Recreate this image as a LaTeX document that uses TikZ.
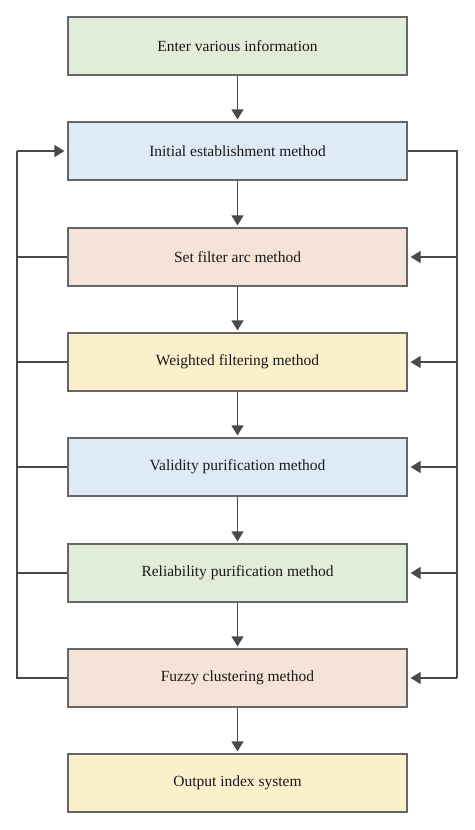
\documentclass[tikz,border=0pt]{standalone}
\usepackage{fontspec}
\setmainfont{Liberation Serif}
\usetikzlibrary{arrows.meta}
\definecolor{cgreen}{HTML}{E2EDD9}
\definecolor{cblue}{HTML}{DEEAF6}
\definecolor{cpeach}{HTML}{F5E3D7}
\definecolor{cyellow}{HTML}{FCEFCB}
\definecolor{cline}{HTML}{4A4A4A}
\definecolor{cborder}{HTML}{666666}
\begin{document}
\begin{tikzpicture}[x=1pt,y=-1pt,
  stepbox/.style={draw=cborder,line width=1.2pt,minimum width=339pt,minimum height=58pt,inner sep=0pt,font=\fontsize{15.5}{18}\selectfont,text=black!90},
  conn/.style={draw=cline,line width=1.2pt},
  arr/.style={conn,-{Triangle[length=10pt,width=12pt]}}]
\useasboundingbox (0,0) rectangle (474,830);
\node[stepbox,fill=cgreen]  (b1) at (237.5,46)  {Enter various information};
\node[stepbox,fill=cblue]   (b2) at (237.5,151) {Initial establishment method};
\node[stepbox,fill=cpeach]  (b3) at (237.5,257) {Set filter arc method};
\node[stepbox,fill=cyellow] (b4) at (237.5,362) {Weighted filtering method};
\node[stepbox,fill=cblue]   (b5) at (237.5,467) {Validity purification method};
\node[stepbox,fill=cgreen]  (b6) at (237.5,573) {Reliability purification method};
\node[stepbox,fill=cpeach]  (b7) at (237.5,678) {Fuzzy clustering method};
\node[stepbox,fill=cyellow] (b8) at (237.5,783) {Output index system};
\foreach \a/\b in {b1/b2,b2/b3,b3/b4,b4/b5,b5/b6,b6/b7,b7/b8}
  \draw[arr,shorten >=2pt] (\a.south) -- (\b.north);
% left feedback
\coordinate (lt) at (17,151);
\coordinate (lb) at (17,678);
\draw[conn] (b7.west) -- (lb) -- (lt);
\draw[arr,shorten >=3pt] (lt) -- (b2.west);
\foreach \n in {b3,b4,b5,b6}
  \draw[conn] (\n.west) -- (\n.west -| lt);
% right feed
\coordinate (rt) at (457,151);
\coordinate (rb) at (457,678);
\draw[conn] (b2.east) -- (rt) -- (rb);
\foreach \n in {b3,b4,b5,b6,b7}
  \draw[arr,shorten >=3pt] (\n.east -| rt) -- (\n.east);
\end{tikzpicture}
\end{document}
